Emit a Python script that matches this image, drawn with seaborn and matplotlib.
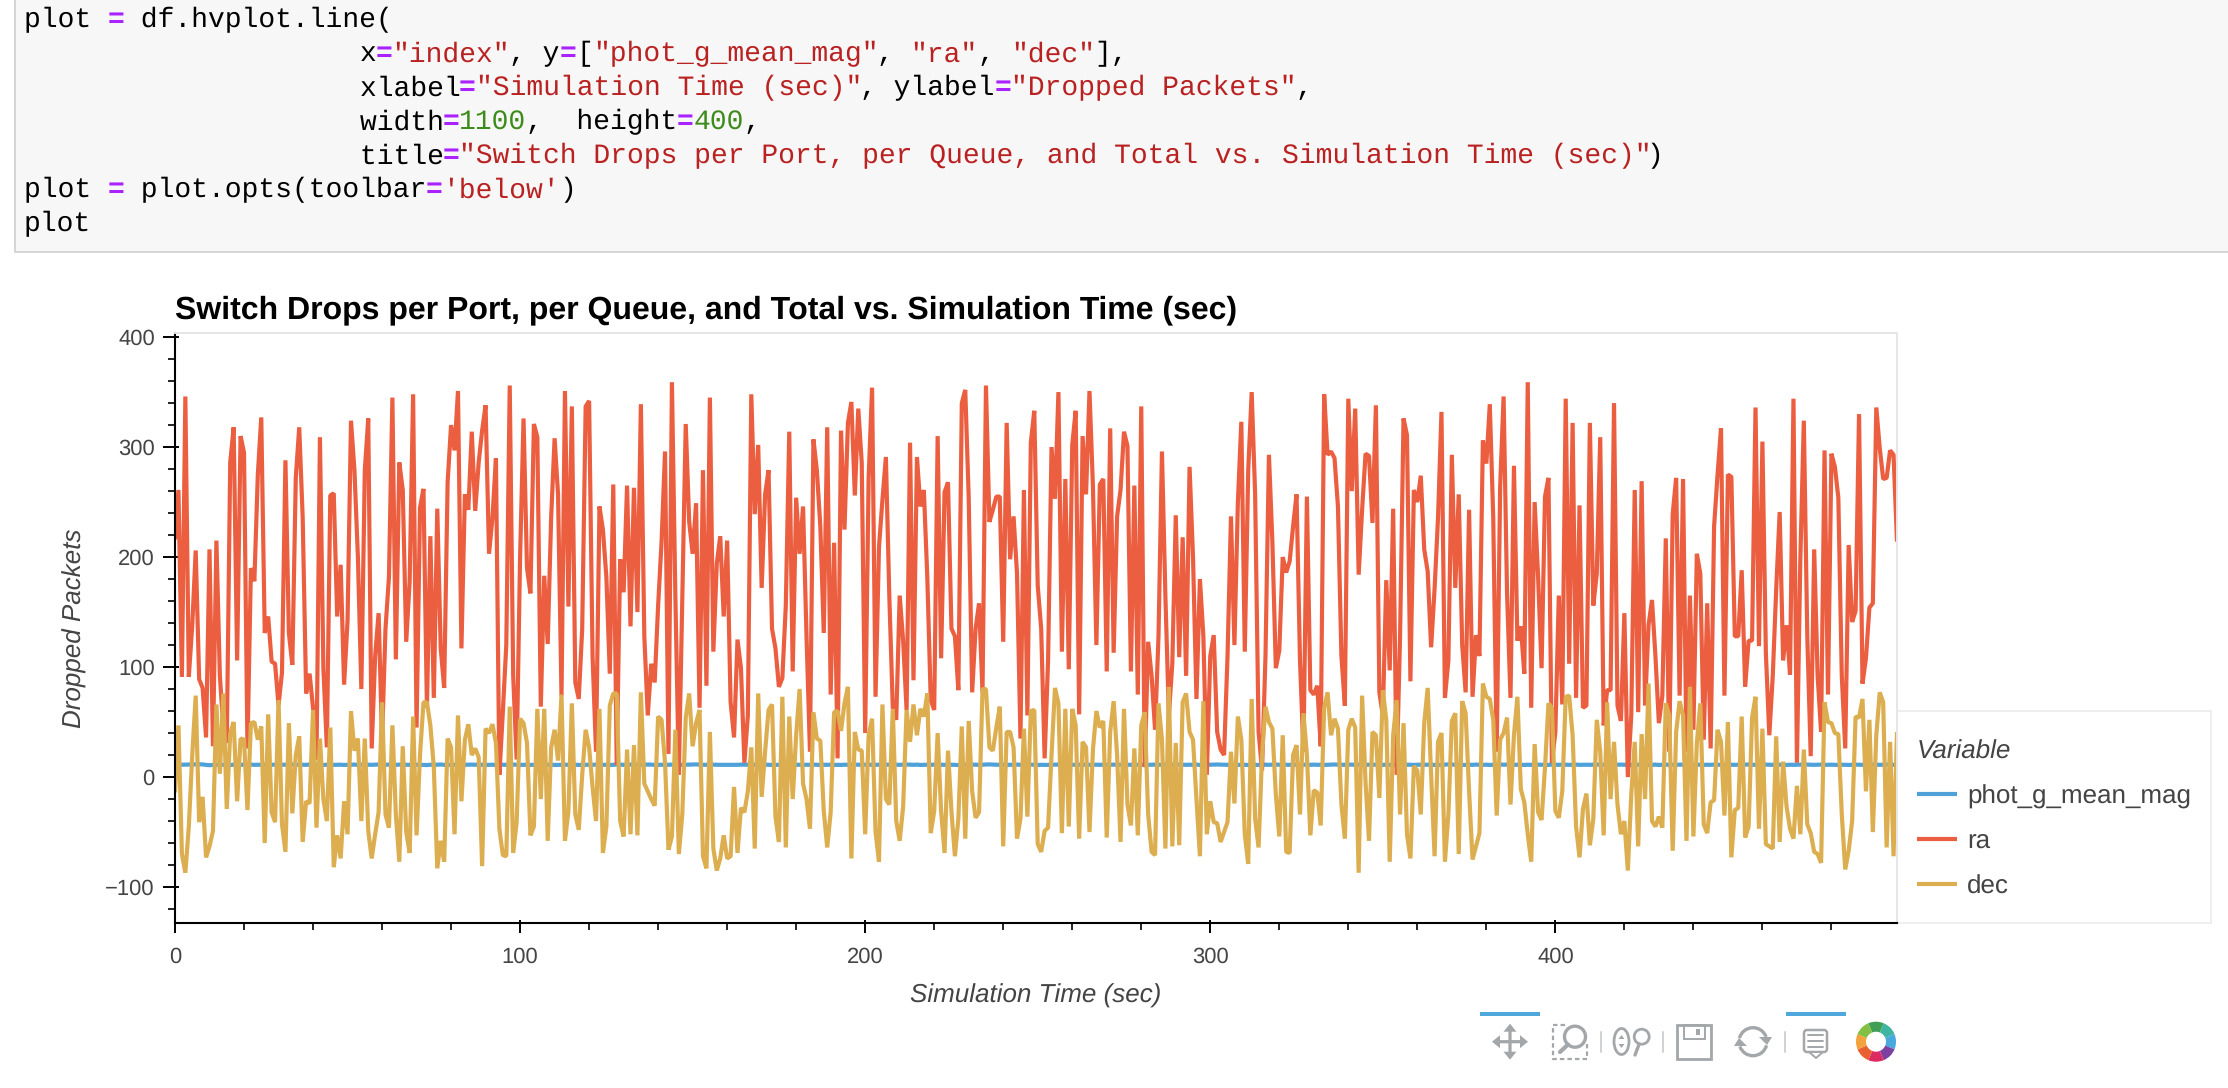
import matplotlib
matplotlib.use("Agg")
import matplotlib.pyplot as plt
import seaborn as sns
import pandas as pd
from matplotlib.patches import Rectangle, Circle, Ellipse, Wedge, Arc, Polygon, FancyBboxPatch
from matplotlib.ticker import MultipleLocator

W, H = 2228, 1088

# values, one per index
phot_g_mean_mag = [
    11.4, 11.3, 11.2, 11.3, 11.3, 11.4, 11.5, 11.6, 11.5, 11.0,
    10.8, 11.0, 11.2, 11.1, 11.2, 11.2, 11.0, 11.2, 11.1, 11.2,
    11.3, 11.3, 11.3, 11.1, 11.2, 11.1, 11.2, 11.0, 11.2, 11.2,
    11.1, 11.3, 11.3, 11.2, 11.4, 11.3, 11.2, 11.2, 11.1, 11.3,
    11.2, 11.4, 11.2, 11.0, 11.2, 11.1, 11.1, 11.2, 11.2, 11.0,
    11.1, 11.2, 11.3, 11.1, 11.2, 11.1, 11.2, 11.1, 11.2, 11.4,
    11.1, 11.2, 11.3, 11.2, 11.1, 11.3, 11.2, 11.0, 11.1, 11.3,
    11.1, 11.0, 11.1, 10.9, 11.2, 11.1, 11.3, 11.4, 11.1, 11.2,
    11.0, 11.1, 11.2, 11.1, 11.2, 11.3, 11.3, 11.2, 11.3, 11.1,
    11.0, 11.1, 11.2, 11.0, 11.1, 11.2, 11.1, 11.2, 11.3, 11.1,
    11.0, 11.1, 11.2, 11.0, 11.2, 11.3, 11.2, 11.1, 11.1, 11.2,
    11.0, 11.1, 11.3, 11.2, 11.1, 11.2, 11.2, 11.0, 11.1, 11.3,
    11.2, 11.1, 11.3, 11.2, 11.2, 11.1, 11.0, 11.1, 11.4, 11.2,
    11.1, 11.2, 11.3, 11.2, 11.2, 11.3, 11.2, 11.4, 11.3, 11.0,
    11.1, 11.2, 11.0, 11.1, 11.3, 11.1, 11.0, 11.1, 11.2, 11.3,
    11.4, 11.5, 11.3, 11.2, 11.1, 11.3, 11.2, 11.0, 11.1, 11.1,
    11.2, 11.1, 11.2, 11.1, 11.3, 11.3, 11.2, 11.1, 11.2, 11.0,
    11.1, 11.3, 11.1, 11.0, 11.1, 11.2, 11.2, 11.0, 11.2, 11.3,
    11.1, 11.2, 11.0, 11.2, 11.1, 11.3, 11.1, 11.0, 11.2, 11.1,
    11.2, 11.0, 11.1, 11.0, 11.2, 11.1, 11.2, 11.3, 11.2, 11.1,
    11.2, 11.3, 11.1, 11.2, 11.2, 11.1, 11.3, 11.2, 11.0, 11.2,
    11.1, 11.3, 11.4, 11.2, 11.1, 11.3, 11.0, 11.1, 11.2, 11.1,
    11.3, 11.1, 11.2, 11.1, 11.0, 11.2, 11.1, 10.9, 11.1, 11.2,
    11.1, 11.3, 11.2, 11.1, 11.3, 11.4, 11.5, 11.3, 11.2, 11.2,
    11.1, 11.0, 11.2, 11.1, 11.3, 11.2, 11.0, 11.2, 11.4, 11.1,
    11.0, 11.1, 11.0, 11.0, 11.2, 11.3, 11.3, 11.2, 11.3, 11.1,
    11.2, 11.1, 11.2, 11.3, 11.2, 11.1, 11.3, 11.2, 11.1, 11.2,
    11.0, 11.2, 11.3, 11.1, 11.2, 11.1, 11.2, 11.1, 11.0, 11.2,
    11.3, 11.2, 11.1, 11.2, 11.3, 11.2, 11.1, 11.3, 11.2, 11.1,
    11.2, 11.3, 11.2, 11.1, 11.2, 11.1, 11.3, 11.0, 11.2, 11.1,
    11.2, 11.2, 11.4, 11.3, 11.2, 11.1, 11.2, 11.1, 11.0, 11.2,
    11.1, 11.0, 11.2, 11.1, 11.0, 11.3, 11.2, 11.1, 11.2, 11.4,
    11.1, 11.2, 11.2, 11.1, 11.3, 11.2, 11.1, 11.3, 11.2, 11.1,
    11.3, 11.1, 11.2, 11.0, 11.2, 11.3, 11.4, 11.3, 11.2, 11.1,
    11.2, 11.3, 11.1, 11.2, 11.0, 11.1, 11.2, 11.3, 11.2, 11.1,
    11.1, 11.2, 11.0, 11.3, 11.1, 11.2, 11.1, 11.2, 11.2, 11.0,
    11.2, 11.2, 11.3, 11.1, 11.2, 11.0, 11.1, 10.9, 11.3, 11.5,
    11.4, 11.1, 11.2, 11.1, 11.0, 11.2, 11.1, 11.3, 11.2, 11.1,
    11.2, 11.0, 11.2, 11.3, 11.4, 11.2, 11.3, 11.1, 11.2, 11.2,
    11.1, 11.0, 11.2, 11.1, 11.3, 11.2, 11.2, 11.1, 11.1, 11.3,
    11.2, 11.1, 11.3, 11.2, 11.1, 11.2, 11.3, 11.1, 11.2, 11.2,
    11.1, 11.3, 11.4, 11.2, 11.1, 11.3, 11.2, 11.1, 11.2, 11.3,
    11.2, 11.1, 10.9, 11.1, 11.2, 11.3, 11.1, 11.2, 11.1, 11.3,
    11.0, 11.2, 11.3, 11.1, 11.2, 11.1, 11.3, 11.2, 11.1, 11.2,
    11.2, 11.3, 11.1, 11.0, 11.2, 11.1, 11.3, 11.2, 11.1, 11.2,
    11.3, 11.2, 11.1, 11.2, 11.2, 11.3, 11.4, 11.2, 11.1, 11.2,
    11.3, 11.3, 11.2, 11.1, 11.3, 11.2, 11.1, 11.0, 11.2, 11.1,
    11.2, 11.2, 11.4, 11.3, 11.2, 11.1, 11.2, 11.3, 11.1, 11.2,
    11.2, 11.1, 11.0, 11.2, 11.1, 11.0, 11.2, 11.3, 11.2, 11.1,
    11.0, 11.1, 11.2, 11.3, 11.1, 11.2, 11.3, 11.2, 11.1, 11.2,
]
ra = [
    216, 261, 91, 346, 91, 138, 206, 89, 81, 36,
    207, 28, 215, 92, 45, 31, 286, 318, 106, 310,
    295, 26, 190, 178, 275, 327, 131, 146, 105, 103,
    65, 95, 288, 131, 102, 272, 318, 236, 76, 94,
    63, 16, 309, 99, 27, 256, 258, 146, 193, 84,
    142, 324, 279, 200, 80, 279, 326, 26, 110, 149,
    34, 135, 182, 345, 107, 286, 261, 123, 178, 348,
    45, 245, 262, 63, 219, 72, 244, 117, 81, 268,
    320, 297, 351, 117, 257, 243, 314, 242, 286, 315,
    338, 203, 236, 290, 2, 59, 120, 356, 92, 16,
    200, 326, 190, 167, 321, 309, 64, 183, 121, 236,
    308, 257, 74, 351, 155, 337, 86, 71, 135, 337,
    342, 110, 23, 246, 225, 182, 94, 266, 11, 198,
    168, 265, 137, 263, 150, 339, 128, 56, 103, 86,
    156, 214, 296, 21, 359, 164, 2, 164, 321, 232,
    203, 249, 63, 279, 83, 345, 114, 194, 219, 146,
    215, 68, 36, 125, 99, 13, 56, 348, 239, 302,
    172, 257, 279, 135, 117, 82, 90, 156, 314, 96,
    254, 203, 246, 128, 23, 307, 279, 228, 131, 318,
    75, 213, 17, 315, 225, 322, 341, 256, 335, 286,
    40, 272, 354, 73, 209, 252, 291, 164, 63, 52,
    165, 124, 61, 304, 88, 291, 246, 261, 182, 70,
    61, 310, 108, 259, 268, 135, 128, 79, 340, 352,
    254, 77, 135, 158, 77, 356, 232, 243, 255, 255,
    123, 322, 198, 237, 185, 35, 261, 56, 304, 333,
    174, 135, 17, 106, 300, 253, 350, 114, 271, 98,
    302, 333, 57, 310, 257, 351, 264, 120, 266, 271,
    96, 317, 113, 237, 261, 314, 301, 96, 265, 75,
    337, 9, 123, 92, 43, 128, 296, 164, 56, 103,
    238, 109, 218, 92, 282, 200, 71, 180, 128, 2,
    110, 129, 41, 25, 20, 110, 237, 120, 250, 323,
    114, 279, 350, 257, 41, 6, 110, 293, 214, 99,
    115, 200, 186, 196, 228, 257, 106, 23, 255, 79,
    75, 83, 28, 348, 293, 296, 290, 246, 110, 65,
    344, 260, 335, 184, 243, 294, 292, 231, 338, 77,
    56, 179, 97, 244, 2, 128, 326, 311, 87, 261,
    250, 274, 207, 187, 118, 171, 236, 332, 72, 106,
    293, 172, 257, 120, 77, 243, 73, 129, 110, 306,
    285, 339, 236, 23, 264, 346, 167, 72, 283, 124,
    137, 94, 359, 63, 250, 182, 99, 255, 272, 13,
    41, 165, 66, 344, 103, 322, 72, 247, 63, 65,
    322, 156, 185, 309, 47, 79, 79, 340, 65, 51,
    149, 0, 56, 261, 59, 269, 65, 138, 161, 110,
    49, 74, 217, 23, 239, 272, 74, 271, 23, 165,
    43, 203, 185, 34, 158, 26, 228, 275, 317, 74,
    275, 273, 128, 128, 188, 82, 124, 124, 336, 119,
    305, 113, 38, 92, 171, 241, 106, 138, 93, 344,
    13, 200, 324, 128, 19, 207, 92, 41, 297, 75,
    294, 282, 254, 92, 26, 211, 141, 151, 330, 85,
    108, 154, 158, 336, 299, 271, 272, 297, 293, 214,
]
dec = [
    -14, 47, -70, -87, -45, 20, 74, -41, -18, -73,
    -63, -49, 66, 3, 76, -29, 40, 50, -22, 35,
    34, -30, 49, 50, 34, 46, -60, 57, -32, -41,
    70, -43, -68, 49, -33, 20, 37, -59, -22, -24,
    61, -46, 35, -20, -40, 45, -82, -53, -74, -22,
    -52, 60, 24, 35, -40, 35, -49, -74, -52, -32,
    68, -34, -46, 47, -34, -77, 28, -50, -69, 55,
    -53, 20, 68, 68, 47, 9, -83, -58, -77, 35,
    27, -52, 56, -22, 34, 48, 20, 26, 18, -81,
    44, 40, 48, 31, -47, -71, -72, 64, -69, -41,
    53, 49, 31, -53, -45, 62, -20, 62, -58, 27,
    43, 15, 75, -58, -31, 67, -34, -48, 2, 43,
    27, -9, -40, 62, -69, -45, 65, 76, 76, -40,
    -54, 25, -52, 29, -53, 77, -6, -13, -20, -26,
    55, 52, 13, -66, -54, 43, -70, -34, 54, 76,
    28, 49, 61, -72, -83, 41, -65, -85, -74, -53,
    -74, -72, -9, -69, -28, -32, -13, 27, -65, 76,
    -18, 23, 61, 66, -36, -59, 73, -64, 55, -20,
    38, 80, -6, -20, -47, 59, 35, 33, -31, -64,
    -32, 59, 60, 42, 67, 82, -74, 41, 25, 24,
    -52, 38, 53, -50, -77, 66, -20, -25, 62, -40,
    -58, -27, 61, 32, 66, 38, 62, 55, 76, -51,
    -31, 40, -31, -69, 24, -31, -72, -38, 46, -56,
    51, -13, -37, -32, 80, 80, 27, 24, 45, 64,
    -63, 41, 41, 27, -56, -38, 44, -36, 60, 61,
    -61, -68, -49, -46, 20, 81, 67, -51, 62, -45,
    62, 47, -56, 32, 27, -50, 25, 60, 45, 51,
    -55, 41, 69, 20, -59, 62, -25, -44, 26, -53,
    47, 59, -34, -68, -71, 67, 34, -65, 82, -63,
    31, -62, 68, 76, 41, 34, -20, -72, 69, -52,
    -22, -41, -42, -59, -50, -41, 23, -24, 55, 34,
    -52, -79, 71, -38, -64, 20, 64, 50, 44, -16,
    -54, 38, -68, -69, 20, 29, -34, 58, 20, -53,
    -12, -14, -44, 63, 77, 38, 53, 44, -25, -56,
    43, 53, 45, -87, 74, -5, -58, 41, 38, -19,
    79, 52, -77, 38, 70, -34, 49, -52, -74, 10,
    6, -34, 49, 81, 2, -72, 32, 40, -77, -34,
    51, 58, -70, 69, 58, -13, -75, -63, -51, 85,
    73, 71, 52, -35, 34, 40, 54, -25, 38, 73,
    -11, -23, -52, -77, 30, -32, -39, 9, 67, 63,
    -31, -37, -13, 73, 74, 38, -45, -73, -29, -15,
    -62, -38, 52, 23, -53, 68, -20, 32, -25, -52,
    -40, -85, -16, 32, -63, 39, -20, 85, -40, -45,
    -36, -46, 67, 56, -67, 41, 69, 56, -58, 82,
    -54, 31, 67, -43, -51, -23, -21, 43, 32, -35,
    50, -73, -30, -28, 55, -55, -45, 54, 73, -47,
    44, -61, -63, -65, 37, -59, 14, -27, -47, -56,
    -8, -52, 25, -43, -51, -68, -70, -78, 68, 50,
    49, 40, 39, -34, -84, -67, -40, 55, 54, 71,
    -13, 52, -50, 38, 77, 68, -64, 32, -72, 41,
]

series_names = ["phot_g_mean_mag", "ra", "dec"]
series_colors = ["#4fa2d9", "#ec5e40", "#dcae50"]

BK, PU, RD, GN = "#000000", "#aa22ff", "#ba2121", "#3d8b1a"
code_lines = [
    [("plot ", BK), ("=", PU), (" df.hvplot.line(", BK)],
    [(" " * 20 + "x", BK), ("=", PU), ('"index"', RD), (", y", BK), ("=", PU), ("[", BK),
     ('"phot_g_mean_mag"', RD), (", ", BK), ('"ra"', RD), (", ", BK), ('"dec"', RD), ("],", BK)],
    [(" " * 20 + "xlabel", BK), ("=", PU), ('"Simulation Time (sec)"', RD), (", ylabel", BK), ("=", PU),
     ('"Dropped Packets"', RD), (",", BK)],
    [(" " * 20 + "width", BK), ("=", PU), ("1100", GN), (",  height", BK), ("=", PU), ("400", GN), (",", BK)],
    [(" " * 20 + "title", BK), ("=", PU), ('"Switch Drops per Port, per Queue, and Total vs. Simulation Time (sec)"', RD),
     (")", BK)],
    [("plot ", BK), ("=", PU), (" plot.opts(toolbar", BK), ("=", PU), ("'below'", RD), (")", BK)],
    [("plot", BK)],
]

sns.set_theme(style="white")
plt.rcParams['font.family'] = ['Liberation Sans', 'DejaVu Sans']
plt.rcParams['text.hinting'] = 'no_hinting'
plt.rcParams['text.hinting_factor'] = 1

df = pd.DataFrame({"phot_g_mean_mag": phot_g_mean_mag, "ra": ra, "dec": dec})
df["index"] = df.index
long_df = df.melt(id_vars="index", value_vars=series_names, var_name="Variable", value_name="value")

fig = plt.figure(figsize=(W / 100, H / 100), dpi=100)

# page furniture in pixel coordinates: code cell and toolbar
page = fig.add_axes([0, 0, 1, 1], zorder=0)
page.set_xlim(0, W)
page.set_ylim(H, 0)
page.axis("off")

page.add_patch(Rectangle((15, -4), W, 256, fc="#f7f7f7", ec="#cfcfcf", lw=1.2))
for row, parts in enumerate(code_lines):
    col = 0
    for text, color in parts:
        y = 20 + row * 34
        page.text(24 + col * 16.73, y, text, family="Liberation Mono", fontsize=19.9, color=color,
                  va="center", ha="left", fontweight="bold" if color == PU else "normal")
        col += len(text)

ICON = "#a3a7aa"
page.add_patch(Rectangle((1480, 1012), 60, 4, fc="#4ea8dc", ec="none"))
page.add_patch(Rectangle((1786, 1012), 60, 4, fc="#4ea8dc", ec="none"))
# pan
for dx, dy in [(1, 0), (-1, 0), (0, 1), (0, -1)]:
    page.arrow(1510, 1041.7, dx * 10, dy * 10, width=3.2, head_width=13, head_length=8, color=ICON, lw=0)
# box zoom
page.add_patch(Rectangle((1553, 1025), 34, 34, fc="none", ec=ICON, lw=1.6, ls=(0, (2, 1.4))))
page.add_patch(Rectangle((1566, 1020), 24, 24, fc="white", ec="none"))
page.add_patch(Circle((1575, 1036.7), 10.5, fc="white", ec=ICON, lw=2.4))
page.plot([1568, 1560], [1044.5, 1052], color=ICON, lw=3, solid_capstyle="round")
# wheel zoom
page.add_patch(Ellipse((1621.5, 1041.5), 15, 26, fc="none", ec=ICON, lw=2))
page.add_patch(Polygon([(1618.5, 1039), (1624.5, 1039), (1621.5, 1035)], fc=ICON, ec="none"))
page.add_patch(Polygon([(1618.5, 1044), (1624.5, 1044), (1621.5, 1048)], fc=ICON, ec="none"))
page.add_patch(Circle((1641.7, 1036.7), 7.5, fc="none", ec=ICON, lw=2))
page.plot([1639, 1635], [1044.5, 1055], color=ICON, lw=2.4, solid_capstyle="round")
# save
page.add_patch(Rectangle((1677, 1025), 34, 34, fc="none", ec=ICON, lw=2))
page.add_patch(Rectangle((1684, 1025), 21, 14, fc="none", ec=ICON, lw=1.4))
page.add_patch(Rectangle((1696, 1029), 4, 6, fc=ICON, ec="none"))
# reset
page.add_patch(Arc((1753, 1041.7), 28, 28, theta1=195, theta2=340, ec=ICON, lw=2.4))
page.add_patch(Arc((1753, 1041.7), 28, 28, theta1=15, theta2=160, ec=ICON, lw=2.4))
page.add_patch(Polygon([(1759, 1037), (1772, 1037), (1767, 1045)], fc=ICON, ec="none"))
page.add_patch(Polygon([(1734, 1046), (1747, 1046), (1739, 1038)], fc=ICON, ec="none"))
# hover
page.add_patch(FancyBboxPatch((1804, 1030), 23, 22, boxstyle="round,pad=0,rounding_size=3", fc="none", ec=ICON, lw=1.8))
page.add_patch(Polygon([(1809, 1052), (1823, 1052), (1816, 1058)], fc="white", ec=ICON, lw=1.4))
for ly in [1035, 1041, 1047]:
    page.plot([1808, 1823], [ly, ly], color=ICON, lw=1.4)
for sx in [1601, 1662.7, 1785]:
    page.plot([sx, sx], [1032, 1052], color="#cfd1d3", lw=1.4)
# logo
logo_colors = ["#3f9f55", "#3fb4a0", "#4aa8dc", "#7d3fa0", "#dc2a63", "#e8602f", "#f3a23c", "#82bf45"]
for i, c in enumerate(logo_colors):
    page.add_patch(Wedge((1876, 1041.7), 20, -112.5 + i * 45, -67.5 + i * 45, width=10, fc=c, ec="none"))
# legend frame
page.add_patch(Rectangle((1897, 711), 314, 212, fc="white", ec="#eeeeee", lw=1.4))

# chart
ax = fig.add_axes([175 / W, 1 - 923 / H, (1897 - 175) / W, (923 - 332.7) / H], zorder=2)
sns.lineplot(data=long_df, x="index", y="value", hue="Variable", hue_order=series_names,
             palette=series_colors, estimator=None, sort=False, errorbar=None,
             linewidth=3.0, ax=ax, solid_joinstyle="bevel", solid_capstyle="butt")

ax.set_xlim(0, 499)
ax.set_ylim(-132.7, 404)
ax.xaxis.set_major_locator(MultipleLocator(100))
ax.xaxis.set_minor_locator(MultipleLocator(20))
ax.yaxis.set_major_locator(MultipleLocator(100))
ax.yaxis.set_minor_locator(MultipleLocator(20))
ax.tick_params(which="major", axis="y", direction="out", length=8.6, width=1.4, color="black",
               labelsize=16, labelcolor="#444444", pad=6, left=True)
ax.tick_params(which="major", axis="x", direction="out", length=7.2, width=1.4, color="black",
               labelsize=16, labelcolor="#444444", pad=10, bottom=True)
ax.tick_params(which="minor", axis="both", direction="out", length=5, width=1.2, color="black",
               left=True, bottom=True)

# short inward stubs on the major ticks
in_y = ax.secondary_yaxis("left")
in_y.set_yticks([-100, 0, 100, 200, 300, 400], labels=[])
in_y.tick_params(direction="in", length=3, width=1.4, color="black")
in_y.spines["left"].set_visible(False)
in_x = ax.secondary_xaxis("bottom")
in_x.set_xticks([0, 100, 200, 300, 400], labels=[])
in_x.tick_params(direction="in", length=2.2, width=1.4, color="black")
in_x.spines["bottom"].set_visible(False)

for side in ["left", "bottom"]:
    ax.spines[side].set_color("black")
    ax.spines[side].set_linewidth(1.5)
for side in ["top", "right"]:
    ax.spines[side].set_color("#e6e6e6")
    ax.spines[side].set_linewidth(1.4)

ax.set_xlabel("Simulation Time (sec)", fontsize=18.7, fontstyle="italic", color="#444444", labelpad=12)
ax.set_ylabel("Dropped Packets", fontsize=18.7, fontstyle="italic", color="#444444", labelpad=13)
ax.set_title("Switch Drops per Port, per Queue, and Total vs. Simulation Time (sec)",
             loc="left", fontsize=23, fontweight="bold", color="black", pad=10)

sns.move_legend(ax, loc="upper left", bbox_to_anchor=(1897 / W, 1 - 719.5 / H),
                bbox_transform=fig.transFigure, title="Variable", fontsize=18.7, title_fontsize=18.7,
                frameon=False, borderaxespad=0, borderpad=0.77, labelspacing=0.8, handlelength=1.54,
                handletextpad=0.38, alignment="left")
leg = ax.get_legend()
leg.get_title().set_fontstyle("italic")
leg.get_title().set_color("#444444")
for t in leg.get_texts():
    t.set_color("#444444")

fig.savefig("out.png", dpi=100)
